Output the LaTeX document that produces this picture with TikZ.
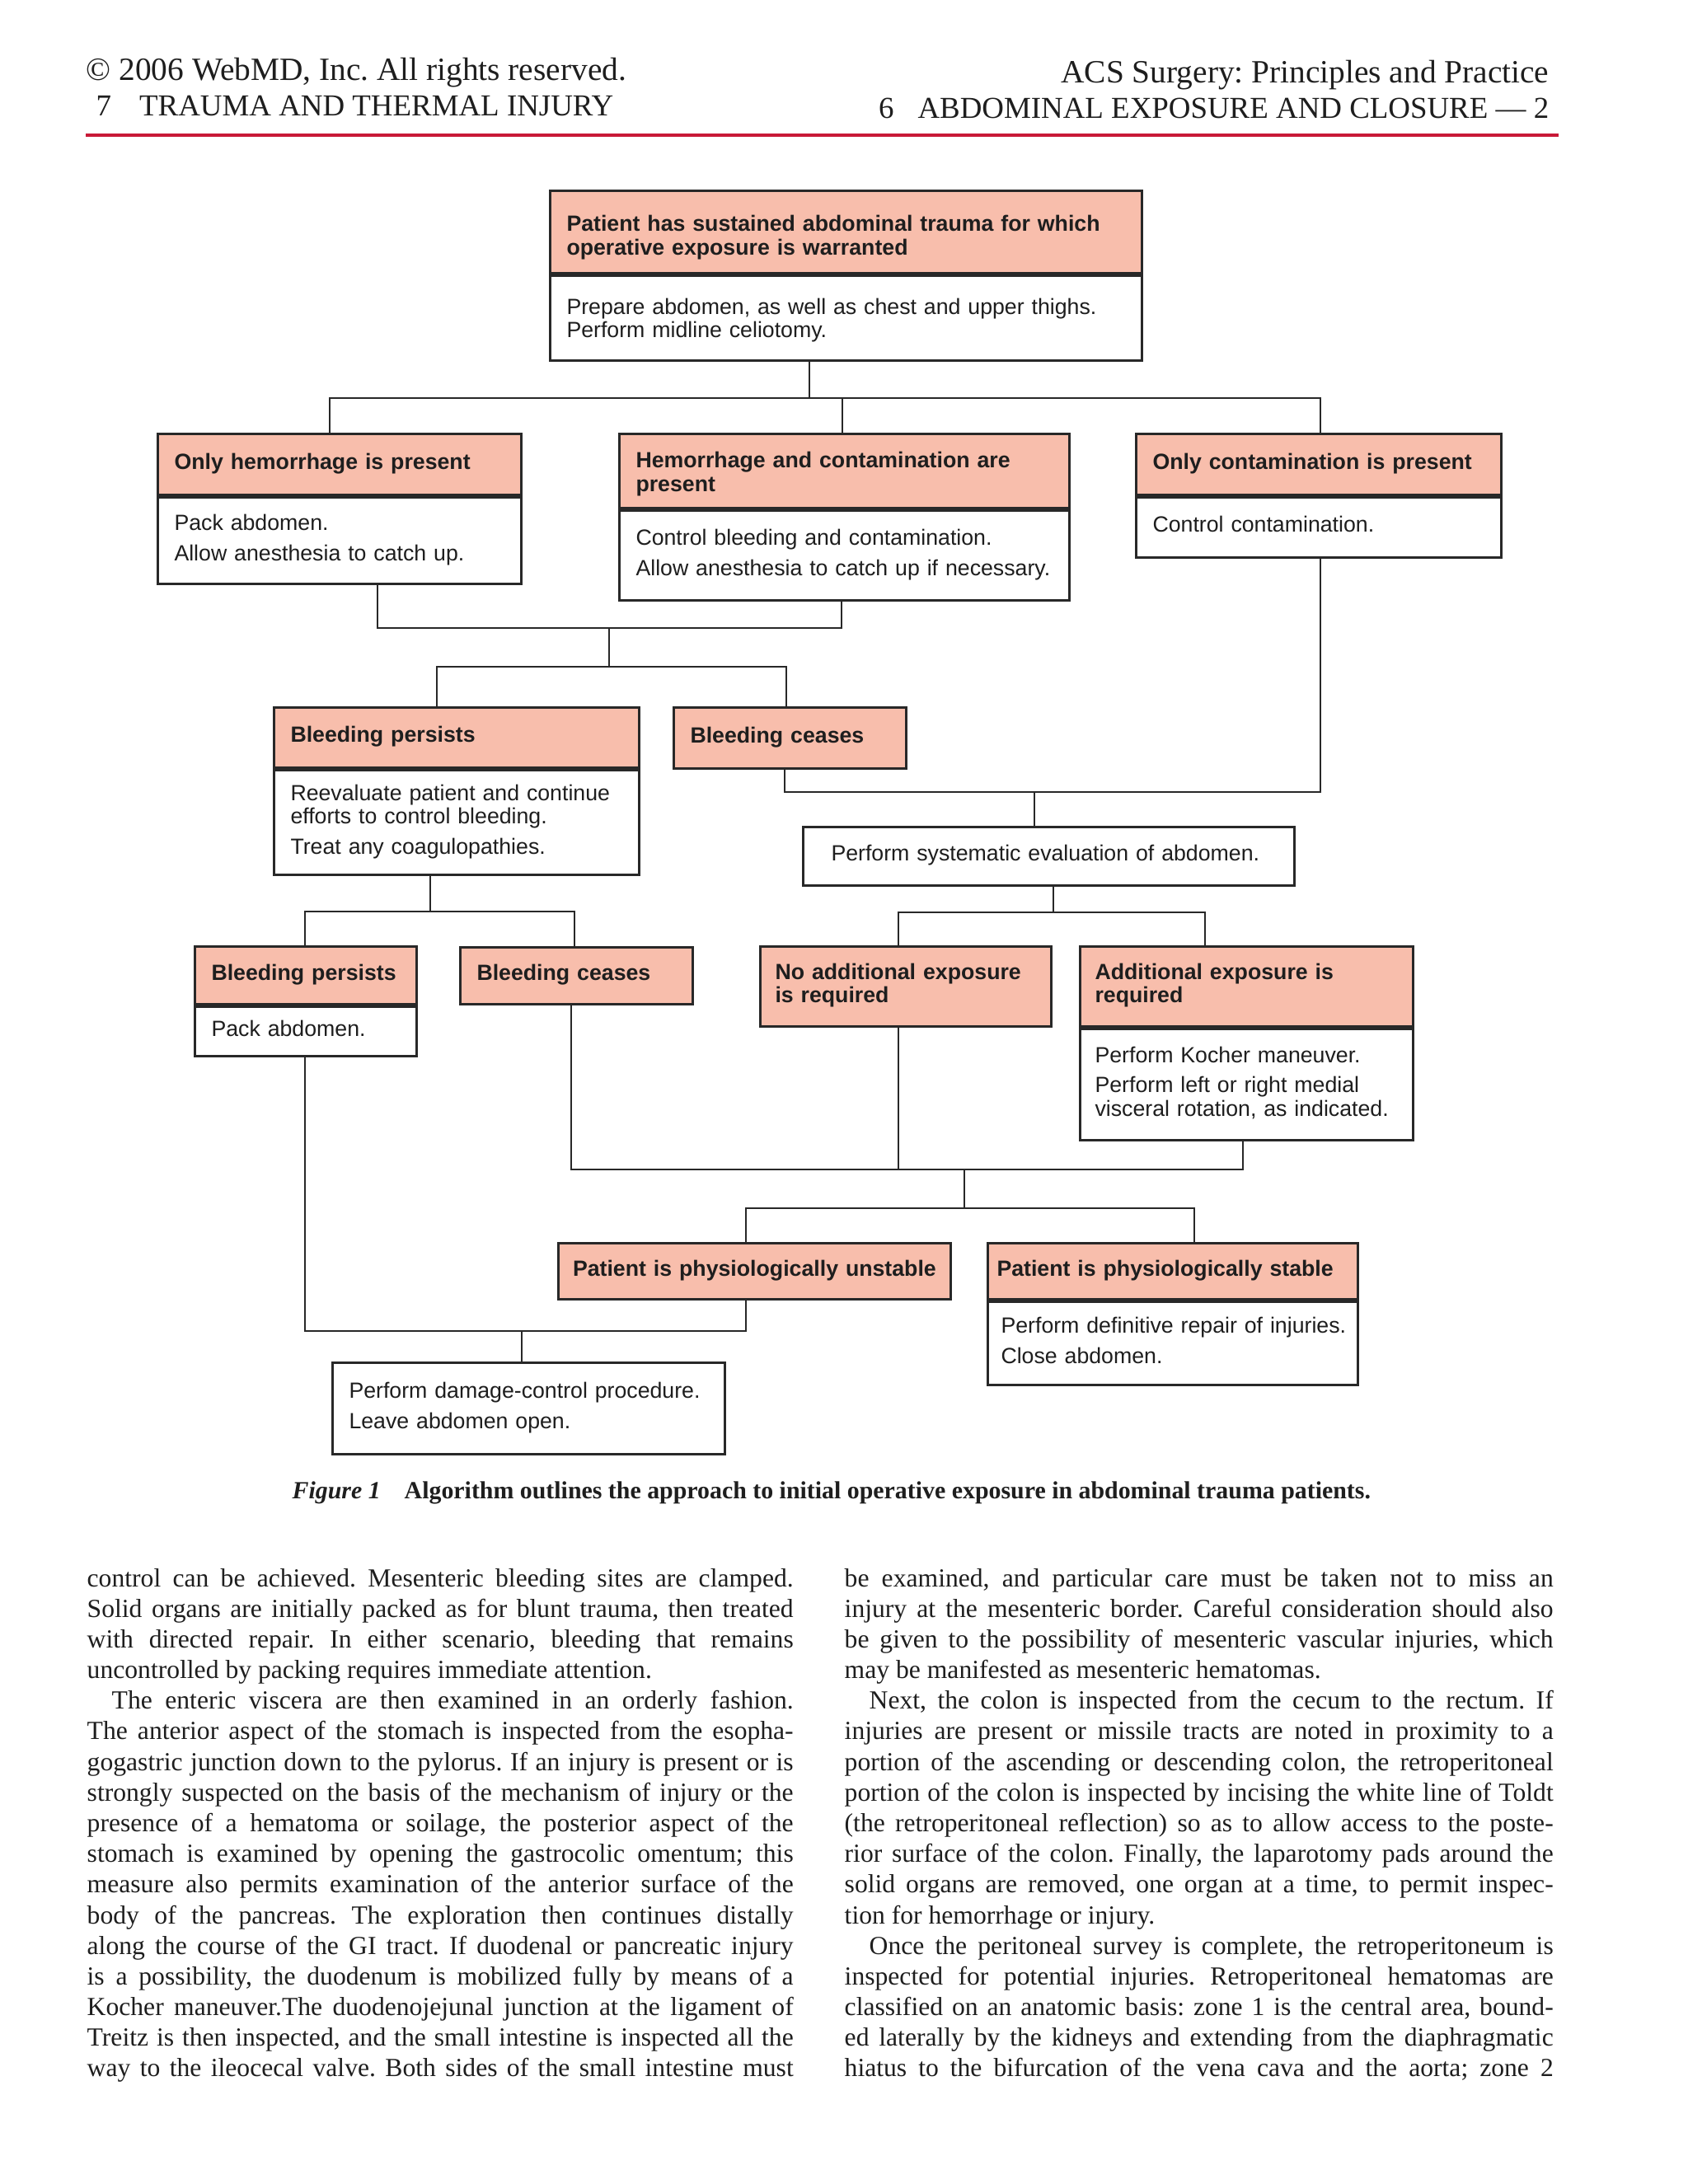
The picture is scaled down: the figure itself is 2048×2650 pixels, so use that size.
\documentclass[tikz,border=0pt]{standalone}
\usepackage{fontspec}
\setmainfont{Liberation Serif}
\setsansfont{Liberation Sans}
\definecolor{pinkc}{RGB}{248,190,172}
\definecolor{lc}{RGB}{40,40,40}
\definecolor{redc}{RGB}{200,25,55}
\definecolor{txt}{RGB}{30,30,30}
\newcommand\lns[1]{\begin{tabular}{@{}l@{}}#1\end{tabular}}
\newcommand\Jl[1]{\hbox to \hsize{#1}}
\newcommand\Lf[1]{\hbox to \hsize{#1\hfil}}
\tikzset{
 hd/.style={draw=lc, line width=0.3mm, fill=pinkc, anchor=north west, inner xsep=2mm, inner ysep=0pt, align=left, text=txt, font=\sffamily\bfseries\fontsize{7.6}{8.1}\selectfont},
 bd/.style={hd, fill=white, font=\sffamily\fontsize{7.6}{8.1}\selectfont},
 ln/.style={draw=lc, line width=0.25mm},
 plain/.style={inner sep=0pt, text=txt},
}
\begin{document}
\frenchspacing
\begin{tikzpicture}[x=0.1mm,y=-0.1mm]
\useasboundingbox (0,0) rectangle (2048,2650);
\fill[white] (0,0) rectangle (2048,2650);

% running head
\node[plain, anchor=base west, font=\fontsize{11.2}{13}\selectfont] (copy) at (104,97) {© 2006 WebMD, Inc. All rights reserved.};
\node[plain, anchor=base west, font=\fontsize{10.5}{12}\selectfont] (sect) at (116,140) {7\hspace{3.4mm}TRAUMA AND THERMAL INJURY};
\node[plain, anchor=base east, font=\fontsize{11.2}{13}\selectfont] (book) at (1880,100) {ACS Surgery: Principles and Practice};
\node[plain, anchor=base east, font=\fontsize{10.5}{12}\selectfont] (chap) at (1880,143) {6\hspace{2.9mm}ABDOMINAL EXPOSURE AND CLOSURE — 2};
\coordinate (rl) at (104,164); \coordinate (rr) at (1891,164);
\draw[redc, line width=0.45mm] (rl) -- (rr);

% boxes
\node[hd, text width=67.8mm, minimum height=10mm] (th) at (666,230) {\lns{\rule{0pt}{10.2pt}Patient has sustained abdominal trauma for which\\operative exposure is warranted}};
\node[bd, text width=67.8mm, minimum height=10.3mm] (tb) at (th.south west) {\lns{\rule{0pt}{7.8pt}Prepare abdomen, as well as chest and upper thighs.\\Perform midline celiotomy.}};

\node[hd, text width=40.1mm, minimum height=7.4mm] (ah) at (190,525) {\lns{Only hemorrhage is present}};
\node[bd, text width=40.1mm, minimum height=10.5mm] (ab) at (ah.south west) {\lns{Pack abdomen.\\[2.4pt]Allow anesthesia to catch up.}};

\node[hd, text width=50.6mm, minimum height=9mm] (bh) at (750,525) {\lns{\rule{0pt}{8.5pt}Hemorrhage and contamination are\\present}};
\node[bd, text width=50.6mm, minimum height=10.9mm] (bb) at (bh.south west) {\lns{Control bleeding and contamination.\\[2.4pt]Allow anesthesia to catch up if necessary.}};

\node[hd, text width=40.3mm, minimum height=7.4mm] (ch) at (1377,525) {\lns{Only contamination is present}};
\node[bd, text width=40.3mm, minimum height=7.3mm] (cb) at (ch.south west) {\lns{Control contamination.}};

\node[hd, text width=40.3mm, minimum height=7.3mm] (dh) at (331,857) {\lns{Bleeding persists}};
\node[bd, text width=40.3mm, minimum height=12.7mm] (db) at (dh.south west) {\lns{Reevaluate patient and continue\\efforts to control bleeding.\\[2.4pt]Treat any coagulopathies.}};

\node[hd, text width=24.2mm, minimum height=7.4mm] (eh) at (816,857) {\lns{Bleeding ceases}};

\node[bd, inner xsep=3.4mm, text width=52.8mm, minimum height=7.1mm] (fb) at (973,1002) {\lns{Perform systematic evaluation of abdomen.}};

\node[hd, text width=22.9mm, minimum height=7mm] (gh) at (235,1147) {\lns{Bleeding persists}};
\node[bd, text width=22.9mm, minimum height=6mm] (gb) at (gh.south west) {\lns{Pack abdomen.}};

\node[hd, text width=24.2mm, minimum height=6.9mm] (hh) at (557,1148) {\lns{Bleeding ceases}};

\node[hd, inner xsep=1.8mm, text width=31.7mm, minimum height=9.7mm] (ih) at (921,1147) {\lns{No additional exposure\\is required}};

\node[hd, inner xsep=1.8mm, text width=36.8mm, minimum height=9.7mm] (jh) at (1309,1147) {\lns{Additional exposure is\\required}};
\node[bd, inner xsep=1.8mm, text width=36.8mm, minimum height=13.5mm] (jb) at (jh.south west) {\lns{Perform Kocher maneuver.\\[2.4pt]Perform left or right medial\\visceral rotation, as indicated.}};

\node[hd, inner xsep=1.75mm, text width=44.1mm, minimum height=6.8mm] (kh) at (676,1507) {\lns{Patient is physiologically unstable}};

\node[hd, inner xsep=1.1mm, text width=42.7mm, minimum height=6.8mm] (lh) at (1197,1507) {\lns{Patient is physiologically stable}};
\node[bd, inner xsep=1.6mm, text width=41.7mm, minimum height=10.1mm] (lb) at (lh.south west) {\lns{Perform definitive repair of injuries.\\[2.4pt]Close abdomen.}};

\node[bd, text width=43.6mm, minimum height=11.1mm] (mb) at (402,1652) {\lns{Perform damage-control procedure.\\[2.4pt]Leave abdomen open.}};

% connectors
\coordinate (j1) at (982,483);
\coordinate (xa) at (400,0); \coordinate (xb) at (1022,0); \coordinate (xc) at (1602,0);
\draw[ln] (tb.south -| j1) -- (j1);
\draw[ln] (ah.north -| xa) |- (j1) -| (ch.north -| xc);
\draw[ln] (j1 -| xb) -- (bh.north -| xb);

\coordinate (j2) at (739,762); \coordinate (xab) at (458,0); \coordinate (xbb) at (1021,0);
\draw[ln] (ab.south -| xab) |- (j2) -| (bb.south -| xbb);
\coordinate (j3) at (739,809); \coordinate (xd) at (530,0); \coordinate (xe) at (954,0);
\draw[ln] (j2) -- (j3);
\draw[ln] (dh.north -| xd) |- (j3) -| (eh.north -| xe);

\coordinate (j4) at (1255,961); \coordinate (xeb) at (952,0);
\draw[ln] (eh.south -| xeb) |- (j4) -| (cb.south -| xc);
\draw[ln] (j4) -- (fb.north -| j4);

\coordinate (j5) at (522,1106); \coordinate (xg) at (370,0); \coordinate (xh) at (697,0);
\draw[ln] (db.south -| j5) -- (j5);
\draw[ln] (gh.north -| xg) |- (j5) -| (hh.north -| xh);

\coordinate (j6) at (1278,1107); \coordinate (xi) at (1090,0); \coordinate (xj) at (1462,0);
\draw[ln] (fb.south -| j6) -- (j6);
\draw[ln] (ih.north -| xi) |- (j6) -| (jh.north -| xj);

\coordinate (j7) at (1170,1419); \coordinate (xhb) at (693,0); \coordinate (xjb) at (1508,0);
\draw[ln] (hh.south -| xhb) |- (j7) -| (jb.south -| xjb);
\draw[ln] (ih.south -| xi) -- (j7 -| xi);
\coordinate (j8) at (1170,1466); \coordinate (xk) at (905,0); \coordinate (xl) at (1449,0);
\draw[ln] (j7) -- (j8);
\draw[ln] (kh.north -| xk) |- (j8) -| (lh.north -| xl);

\coordinate (j9) at (633,1615);
\draw[ln] (gb.south -| xg) |- (j9) -| (kh.south -| xk);
\draw[ln] (j9) -- (mb.north -| j9);

% caption
\node[plain, anchor=base west, font=\bfseries\fontsize{8.5}{10}\selectfont] (cap) at (354,1818) {\makebox[13.6mm][l]{\itshape Figure 1}Algorithm outlines the approach to initial operative exposure in abdominal trauma patients.};

% body text
\node[plain, anchor=base west] (lcol) at (105,1925) {\begin{minipage}[t]{85.7mm}\fontsize{9}{10.58}\selectfont\frenchspacing
\Jl{control can be achieved. Mesenteric bleeding sites are clamped.}
\Jl{Solid organs are initially packed as for blunt trauma, then treated}
\Jl{with directed repair. In either scenario, bleeding that remains}
\Lf{uncontrolled by packing requires immediate attention.}
\Jl{\hspace*{3mm}The enteric viscera are then examined in an orderly fashion.}
\Jl{The anterior aspect of the stomach is inspected from the esopha-}
\Jl{gogastric junction down to the pylorus. If an injury is present or is}
\Jl{strongly suspected on the basis of the mechanism of injury or the}
\Jl{presence of a hematoma or soilage, the posterior aspect of the}
\Jl{stomach is examined by opening the gastrocolic omentum; this}
\Jl{measure also permits examination of the anterior surface of the}
\Jl{body of the pancreas. The exploration then continues distally}
\Jl{along the course of the GI tract. If duodenal or pancreatic injury}
\Jl{is a possibility, the duodenum is mobilized fully by means of a}
\Jl{Kocher maneuver.The duodenojejunal junction at the ligament of}
\Jl{Treitz is then inspected, and the small intestine is inspected all the}
\Jl{way to the ileocecal valve. Both sides of the small intestine must}
\end{minipage}};
\node[plain, anchor=base west] (rcol) at (1024,1925) {\begin{minipage}[t]{86mm}\fontsize{9}{10.58}\selectfont\frenchspacing
\Jl{be examined, and particular care must be taken not to miss an}
\Jl{injury at the mesenteric border. Careful consideration should also}
\Jl{be given to the possibility of mesenteric vascular injuries, which}
\Lf{may be manifested as mesenteric hematomas.}
\Jl{\hspace*{3mm}Next, the colon is inspected from the cecum to the rectum. If}
\Jl{injuries are present or missile tracts are noted in proximity to a}
\Jl{portion of the ascending or descending colon, the retroperitoneal}
\Jl{portion of the colon is inspected by incising the white line of Toldt}
\Jl{(the retroperitoneal reflection) so as to allow access to the poste-}
\Jl{rior surface of the colon. Finally, the laparotomy pads around the}
\Jl{solid organs are removed, one organ at a time, to permit inspec-}
\Lf{tion for hemorrhage or injury.}
\Jl{\hspace*{3mm}Once the peritoneal survey is complete, the retroperitoneum is}
\Jl{inspected for potential injuries. Retroperitoneal hematomas are}
\Jl{classified on an anatomic basis: zone 1 is the central area, bound-}
\Jl{ed laterally by the kidneys and extending from the diaphragmatic}
\Jl{hiatus to the bifurcation of the vena cava and the aorta; zone 2}
\end{minipage}};
\end{tikzpicture}
\end{document}
